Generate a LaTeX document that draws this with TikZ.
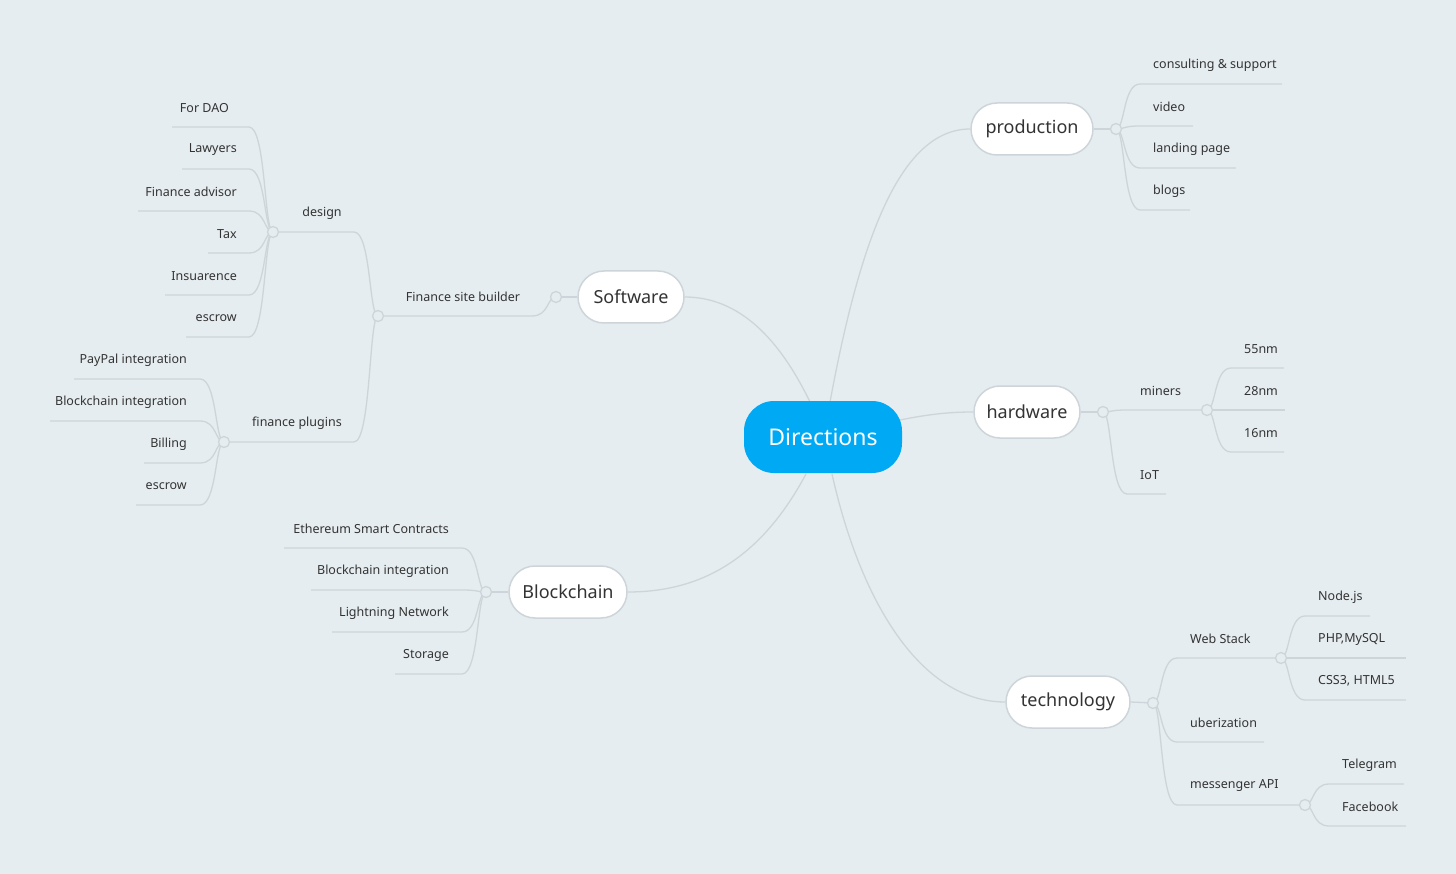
\documentclass[tikz,border=0pt]{standalone}
\usepackage{fontspec}
\setmainfont{Noto Sans}
\definecolor{bg}{HTML}{E6EDF0}
\definecolor{ln}{HTML}{CDD5DA}
\definecolor{tx}{HTML}{333333}
\definecolor{blue}{HTML}{00A9F4}
\newcommand\brR[6]{%
 \draw[lnk] ({#1},{#2}) .. controls ({#1+9},{#2}) and ({#1+7},{#3}) .. ({#1+24},{#3}) -- ({#4},{#3});
 \node[leaf,anchor=west] at ({#5},{#3-19}) {#6};}
\newcommand\brL[6]{%
 \draw[lnk] ({#1},{#2}) .. controls ({#1-9},{#2}) and ({#1-7},{#3}) .. ({#1-24},{#3}) -- ({#4},{#3});
 \node[leaf,anchor=east] at ({#5},{#3-19}) {#6};}
\newcommand\brC[6]{%
 \draw[lnk] ({#1},{#2}) .. controls ({#1-9},{#2}) and ({#1-7},{#3}) .. ({#1-24},{#3}) -- ({#4},{#3});
 \node[leaf] at ({#5},{#3-19}) {#6};}
\begin{document}
\begin{tikzpicture}[x=1pt,y=-1pt,
 lnk/.style={ln,line width=1.3pt},
 leaf/.style={text=tx,font=\fontsize{12.5}{14}\selectfont,inner sep=0pt},
 main/.style={draw=ln,line width=1.5pt,fill=white,rounded corners=26pt,minimum height=52pt,text=tx,font=\fontsize{18}{20}\selectfont,inner sep=0pt},
 hub/.style={circle,draw=ln,line width=1.3pt,fill=bg,minimum size=11pt,inner sep=0pt}]
\fill[bg] (0,0) rectangle (1456,874);
% main nodes
\node[main,minimum width=122pt] (prod) at (1032,129) {production};
\node[main,minimum width=106pt] (soft) at (631,297) {Software};
\node[main,minimum width=106pt] (hard) at (1027,412) {hardware};
\node[main,minimum width=118pt] (block) at (568,592) {Blockchain};
\node[main,minimum width=124pt] (tech) at (1068,702) {technology};
% connectors from center
\coordinate (c1) at (830,402); \coordinate (c2) at (810,402);
\coordinate (c3) at (900,420); \coordinate (c4) at (806,474); \coordinate (c5) at (832,474);
\draw[lnk] (c1) .. controls (860,240) and (900,129) .. (prod.west);
\draw[lnk] (c2) .. controls (780,340) and (740,297) .. (soft.east);
\draw[lnk] (c3) .. controls (930,414) and (950,412) .. (hard.west);
\draw[lnk] (c4) .. controls (760,560) and (700,592) .. (block.east);
\draw[lnk] (c5) .. controls (860,600) and (920,702) .. (tech.west);
\node[fill=blue,rounded corners=30pt,minimum width=158pt,minimum height=72pt,text=white,font=\fontsize{23}{26}\selectfont,inner sep=0pt] (dir) at (823,437) {Directions};
% production
\draw[lnk] (prod.east) -- (1116,129);
\brR{1116}{129}{84}{1282}{1153}{consulting \& support}
\brR{1116}{129}{126}{1193}{1153}{video}
\brR{1116}{129}{168}{1236}{1153}{landing page}
\brR{1116}{129}{210}{1190}{1153}{blogs}
\node[hub] (hp) at (1116,129) {};
% software
\draw[lnk] (soft.west) -- (556,297);
\brC{556}{297}{316}{378}{463}{Finance site builder}
\brC{378}{316}{232}{273}{322}{design}
\brC{378}{316}{442}{224}{297}{finance plugins}
\brL{273}{232}{127}{172}{229}{For DAO}
\brL{273}{232}{169}{182}{237}{Lawyers}
\brL{273}{232}{211}{138}{237}{Finance advisor}
\brL{273}{232}{253}{208}{237}{Tax}
\brL{273}{232}{295}{165}{237}{Insuarence}
\brL{273}{232}{337}{186}{237}{escrow}
\brL{224}{442}{379}{74}{187}{PayPal integration}
\brL{224}{442}{421}{50}{187}{Blockchain integration}
\brL{224}{442}{463}{144}{187}{Billing}
\brL{224}{442}{505}{136}{187}{escrow}
\node[hub] (hs) at (556,297) {};
\node[hub] (hf) at (378,316) {};
\node[hub] (hd) at (273,232) {};
\node[hub] (hpl) at (224,442) {};
% blockchain
\draw[lnk] (block.west) -- (486,592);
\brL{486}{592}{548}{284}{449}{Ethereum Smart Contracts}
\brL{486}{592}{590}{311}{449}{Blockchain integration}
\brL{486}{592}{632}{332}{449}{Lightning Network}
\brL{486}{592}{674}{395}{449}{Storage}
\node[hub] (hb) at (486,592) {};
% hardware
\draw[lnk] (hard.east) -- (1103,412);
\brR{1103}{412}{410}{1207}{1140}{miners}
\brR{1103}{412}{494}{1166}{1140}{IoT}
\brR{1207}{410}{368}{1284}{1244}{55nm}
\brR{1207}{410}{410}{1285}{1244}{28nm}
\brR{1207}{410}{452}{1284}{1244}{16nm}
\node[hub] (hh) at (1103,412) {};
\node[hub] (hm) at (1207,410) {};
% technology
\draw[lnk] (tech.east) -- (1153,703);
\brR{1153}{703}{658}{1281}{1190}{Web Stack}
\brR{1153}{703}{742}{1264}{1190}{uberization}
\brR{1153}{703}{805}{1305}{1190}{messenger API}
\brR{1281}{658}{616}{1370}{1318}{Node.js}
\brR{1281}{658}{658}{1406}{1318}{PHP,MySQL}
\brR{1281}{658}{700}{1406}{1318}{CSS3, HTML5}
\brR{1305}{805}{784}{1404}{1342}{Telegram}
\brR{1305}{805}{826}{1406}{1342}{Facebook}
\node[hub] (ht) at (1153,703) {};
\node[hub] (hw) at (1281,658) {};
\node[hub] (hmsg) at (1305,805) {};
\end{tikzpicture}
\end{document}
